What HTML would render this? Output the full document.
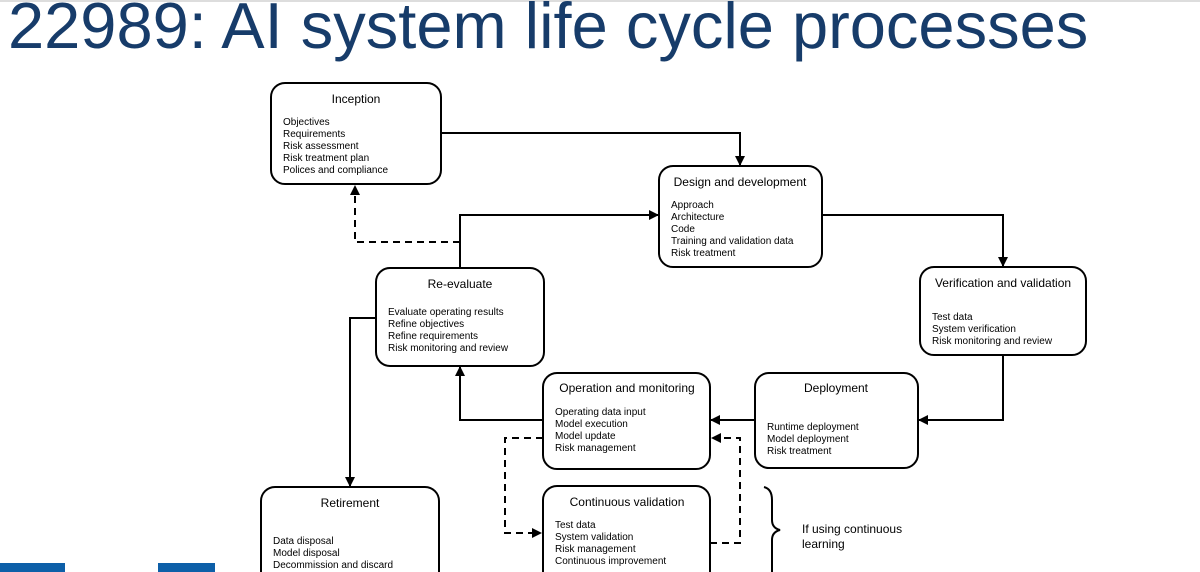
<!DOCTYPE html>
<html><head><style>
html,body{margin:0;padding:0;background:#fff;width:1200px;height:572px;overflow:hidden}
svg{display:block}
text{font-family:"Liberation Sans",Arial,sans-serif}
.t{font-size:12px;text-anchor:middle}
.i{font-size:10px}
.b{fill:#fff;stroke:#000;stroke-width:2}
.l{fill:none;stroke:#000;stroke-width:2}
.d{fill:none;stroke:#000;stroke-width:2;stroke-dasharray:7,5}
</style></head><body>
<svg width="1200" height="572" viewBox="0 0 1200 572">
<defs><marker id="a" markerWidth="10" markerHeight="10" refX="9" refY="5" orient="auto" markerUnits="userSpaceOnUse"><path d="M0,0 L10,5 L0,10 z" fill="#000"/></marker></defs>
<rect x="0" y="0" width="1200" height="2" fill="#ddd"/>
<text x="8" y="48" font-size="65" fill="#173c6a">22989: AI system life cycle processes</text>

<path class="l" d="M441,133 H740 V165" marker-end="url(#a)"/>
<path class="l" d="M822,215 H1003 V266" marker-end="url(#a)"/>
<path class="l" d="M1003,355 V420 H919" marker-end="url(#a)"/>
<path class="l" d="M755,420 H711" marker-end="url(#a)"/>
<path class="l" d="M543,420 H460 V367" marker-end="url(#a)"/>
<path class="l" d="M460,268 V215 H658" marker-end="url(#a)"/>
<path class="d" d="M460,242 H355 V194"/>
<path d="M355,185 L350,195 L360,195 z" fill="#000"/>
<path class="l" d="M376,318 H350 V486" marker-end="url(#a)"/>
<path class="d" d="M543,438 H505 V533 H532"/>
<path d="M542,533 L532,528 L532,538 z" fill="#000"/>
<path class="d" d="M710,543 H740 V438 H721"/>
<path d="M711,438 L721,433 L721,443 z" fill="#000"/>

<rect class="b" x="271" y="83" width="170" height="101" rx="14"/>
<text class="t" x="356" y="103">Inception</text>
<text class="i" x="283" y="125">Objectives</text><text class="i" x="283" y="137">Requirements</text><text class="i" x="283" y="149">Risk assessment</text><text class="i" x="283" y="161">Risk treatment plan</text><text class="i" x="283" y="173">Polices and compliance</text>

<rect class="b" x="659" y="166" width="163" height="101" rx="14"/>
<text class="t" x="740" y="186">Design and development</text>
<text class="i" x="671" y="208">Approach</text><text class="i" x="671" y="220">Architecture</text><text class="i" x="671" y="232">Code</text><text class="i" x="671" y="244">Training and validation data</text><text class="i" x="671" y="256">Risk treatment</text>

<rect class="b" x="920" y="267" width="166" height="88" rx="14"/>
<text class="t" x="1003" y="287">Verification and validation</text>
<text class="i" x="932" y="320">Test data</text><text class="i" x="932" y="332">System verification</text><text class="i" x="932" y="344">Risk monitoring and review</text>

<rect class="b" x="376" y="268" width="168" height="98" rx="14"/>
<text class="t" x="460" y="288">Re-evaluate</text>
<text class="i" x="388" y="315">Evaluate operating results</text><text class="i" x="388" y="327">Refine objectives</text><text class="i" x="388" y="339">Refine requirements</text><text class="i" x="388" y="351">Risk monitoring and review</text>

<rect class="b" x="543" y="373" width="167" height="96" rx="14"/>
<text class="t" x="627" y="392">Operation and monitoring</text>
<text class="i" x="555" y="415">Operating data input</text><text class="i" x="555" y="427">Model execution</text><text class="i" x="555" y="439">Model update</text><text class="i" x="555" y="451">Risk management</text>

<rect class="b" x="755" y="373" width="163" height="95" rx="14"/>
<text class="t" x="836" y="392">Deployment</text>
<text class="i" x="767" y="430">Runtime deployment</text><text class="i" x="767" y="442">Model deployment</text><text class="i" x="767" y="454">Risk treatment</text>

<rect class="b" x="261" y="487" width="178" height="100" rx="14"/>
<text class="t" x="350" y="507">Retirement</text>
<text class="i" x="273" y="544">Data disposal</text><text class="i" x="273" y="556">Model disposal</text><text class="i" x="273" y="568">Decommission and discard</text>

<rect class="b" x="543" y="486" width="167" height="100" rx="14"/>
<text class="t" x="627" y="506">Continuous validation</text>
<text class="i" x="555" y="528">Test data</text><text class="i" x="555" y="540">System validation</text><text class="i" x="555" y="552">Risk management</text><text class="i" x="555" y="564">Continuous improvement</text>

<path class="l" d="M764,487 Q772,489 772,500 V520 Q772,528 780,530 Q772,532 772,540 V572"/>
<text x="802" y="533" font-size="12">If using continuous</text>
<text x="802" y="548" font-size="12">learning</text>

<rect x="0" y="563" width="65" height="9" fill="#0d5fa8"/>
<rect x="158" y="563" width="57" height="9" fill="#0d5fa8"/>
</svg>
</body></html>
